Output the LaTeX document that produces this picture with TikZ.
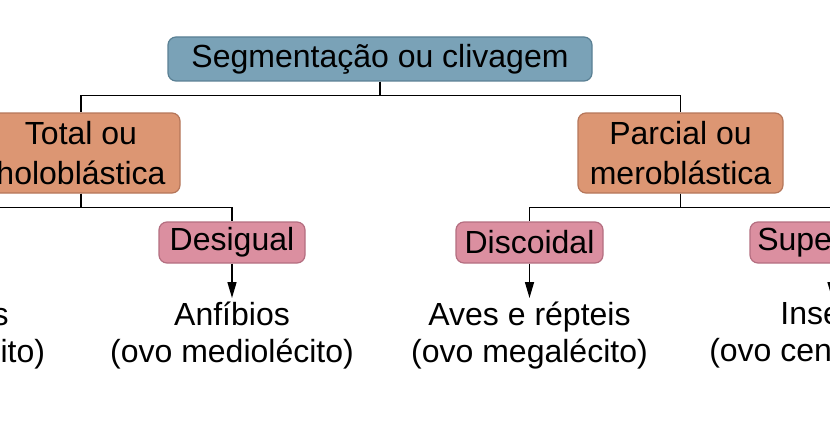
\documentclass[tikz,border=0pt]{standalone}
\usepackage{fontspec}
\setmainfont{Liberation Sans}
\usetikzlibrary{arrows.meta}
\definecolor{segfill}{HTML}{7AA2B7}
\definecolor{segedge}{HTML}{5A8094}
\definecolor{tipofill}{HTML}{DC9673}
\definecolor{tipoedge}{HTML}{B5765A}
\definecolor{modofill}{HTML}{DB8FA0}
\definecolor{modoedge}{HTML}{B46E80}
\begin{document}
\begin{tikzpicture}[x=1pt,y=-1pt,
  box/.style={rounded corners=8pt, line width=1.2pt, inner sep=0pt,
    align=center, font=\fontsize{32pt}{40pt}\selectfont},
  segbox/.style={box, fill=segfill, draw=segedge},
  tipobox/.style={box, fill=tipofill, draw=tipoedge, minimum height=80pt},
  modobox/.style={box, fill=modofill, draw=modoedge, minimum height=41pt},
  leaf/.style={align=center, inner sep=0pt, outer ysep=4pt, anchor=north,
    font=\fontsize{32pt}{37pt}\selectfont},
  link/.style={line width=1.5pt},
  arr/.style={link, -{Triangle[length=16pt,width=9pt]}}]

  \path[use as bounding box, clip] (0,0) rectangle (830,436);

  %% top
  \node[segbox, minimum width=424pt, minimum height=44pt] (seg) at (380,59)
  {Segmentação ou clivagem};

  %% two kinds
  \node[tipobox, minimum width=198pt] (total) at (81,153) {Total ou\\holoblástica};
  \node[tipobox, minimum width=205pt] (parcial) at (680.5,153) {Parcial ou\\meroblástica};

  %% modes
  \coordinate (igual) at (-67,222);
  \node[modobox, minimum width=146pt] (desigual) at (232,242.5) {Desigual};
  \node[modobox, minimum width=147pt] (discoidal) at (529.5,242.5) {Discoidal};
  \node[modobox, minimum width=164pt] (superficial) at (832,242.5) {Superficial};

  %% eggs
  \node[leaf] (mamiferos) at (-67,298) {Mamíferos\\(ovo oligolécito)};
  \node[leaf] (anfibios) at (232,298) {Anfíbios\\(ovo mediolécito)};
  \node[leaf] (aves) at (529.5,298) {Aves e répteis\\(ovo megalécito)};
  \node[leaf] (insetos) at (832,298) {Insetos\\(ovo centrolécito)};

  \draw[link] (seg.south) -- ++(0,14) -| (total.north); %% seg -> total
  \draw[link] (seg.south) -- ++(0,14) -| (parcial.north); %% seg -> parcial

  \draw[link] (total.south) -- ++(0,14) -| (igual); %% total -> igual
  \draw[link] (total.south) -- ++(0,14) -| (desigual.north); %% total -> desigual
  \draw[link] (parcial.south) -- ++(0,14) -| (discoidal.north); %% parcial -> discoidal
  \draw[link] (parcial.south) -- ++(0,14) -| (superficial.north); %% parcial -> superficial

  \draw[arr] (desigual.south) -- (anfibios.north);
  \draw[arr] (discoidal.south) -- (aves.north);
  \draw[arr] (superficial.south) -- (insetos.north);

\end{tikzpicture}
\end{document}
